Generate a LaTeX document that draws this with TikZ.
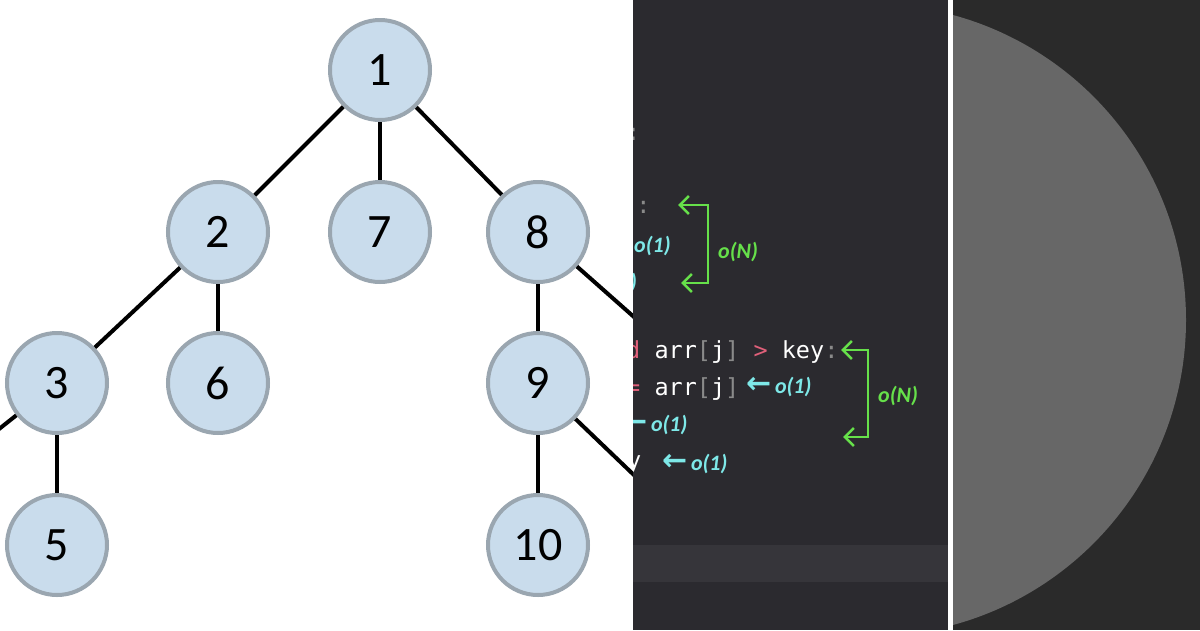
\documentclass[tikz,border=0pt]{standalone}
\usepackage{fontspec}
\setsansfont{Carlito}
\newfontfamily\codefont{DejaVu Sans Mono}
\newfontfamily\arrfont{DejaVu Sans}
\usetikzlibrary{arrows.meta}
\definecolor{nodefill}{HTML}{C9DCEC}
\definecolor{nodeedge}{HTML}{9AA6B0}
\definecolor{darkbg}{HTML}{2B2A2F}
\definecolor{rightbg}{HTML}{2A2A2A}
\definecolor{disc}{HTML}{676767}
\definecolor{band}{HTML}{36353A}
\definecolor{cgreen}{HTML}{66E04A}
\definecolor{ccyan}{HTML}{7EE8E8}
\definecolor{cpink}{HTML}{E0607A}
\definecolor{cgray}{HTML}{8A8A8A}
\newcommand{\larr}{{\arrfont\fontsize{30}{30}\selectfont ←}}
\tikzset{
  tnode/.style={circle,minimum size=100pt,inner sep=0pt,fill=nodefill,draw=nodeedge,line width=4pt,font=\sffamily\fontsize{48}{48}\selectfont},
  tedge/.style={line width=4pt,black},
  code/.style={anchor=base west,inner sep=0pt,font=\codefont\fontsize{23.5}{24}\selectfont,text=white},
  note/.style={anchor=base west,inner sep=0pt,font=\sffamily\itshape\bfseries\fontsize{22}{22}\selectfont},
  brk/.style={cgreen,line width=2.5pt,-{Straight Barb[length=9pt,width=18pt]}},
}
\begin{document}
\begin{tikzpicture}[x=1pt,y=-1pt]
\useasboundingbox (0,0) rectangle (1200,630);
\fill[white] (0,0) rectangle (633,630);
\begin{scope}
\clip (0,0) rectangle (633,630);
\node[tnode] (n1) at (380,70) {1};
\node[tnode] (n2) at (218,232) {2};
\node[tnode] (n7) at (380,232) {7};
\node[tnode] (n8) at (538,232) {8};
\node[tnode] (n3) at (57,383) {3};
\node[tnode] (n6) at (218,383) {6};
\node[tnode] (n9) at (538,383) {9};
\node[tnode] (n5) at (57,545) {5};
\node[tnode] (n10) at (538,545) {10};
\coordinate (o3) at (-40,460);
\coordinate (o8) at (660,340);
\coordinate (o9) at (660,500);
\foreach \a/\b in {n1/n2,n1/n7,n1/n8,n2/n3,n2/n6,n8/n9,n3/n5,n9/n10,n3/o3,n8/o8,n9/o9}
  \draw[tedge] (\a) -- (\b);
\end{scope}
% middle panel
\fill[darkbg] (633,0) rectangle (948,630);
\fill[band] (633,545) rectangle (948,582);
\fill[white] (948,0) rectangle (953,630);
\begin{scope}
\clip (633,0) rectangle (948,630);
\node[code,text=cgray] (c1) at (626,140) {:};
\node[code,text=cgray] (c2) at (622,213) {):};
\node[note,text=ccyan] (c3) at (634,252) {o(1)};
\node[note,text=ccyan] (c4) at (630,289) {)};
\node[code] (c5) at (626,358) {\textcolor{cpink}{d} arr\textcolor{cgray}{[}j\textcolor{cgray}{]} \textcolor{cpink}{>} key\textcolor{cgray}{:}};
\node[code] (c6) at (626,395) {\textcolor{cpink}{=} arr\textcolor{cgray}{[}j\textcolor{cgray}{]}};
\node[note,text=ccyan] (c6n) at (746,393) {\larr\,o(1)};
\node[note,text=ccyan] (c7) at (622,431) {\larr\,o(1)};
\node[code] (c8) at (627,468) {y};
\node[note,text=ccyan] (c8n) at (662,470) {\larr\,o(1)};
\coordinate (b1t) at (708,205);
\coordinate (b1b) at (708,283);
\coordinate (b1a) at (678,205);
\coordinate (b1c) at (681,283);
\draw[brk] (b1b) -- (b1t) -- (b1a);
\draw[brk] (b1t) |- (b1c);
\node[note,text=cgreen] (l1) at (718,258) {o(N)};
\coordinate (b2t) at (868,350);
\coordinate (b2b) at (868,437);
\draw[brk] (b2b) -- (b2t) -- (841,350);
\draw[brk] (b2t) |- (843,437);
\node[note,text=cgreen] (l2) at (878,402) {o(N)};
\end{scope}
% right panel
\fill[rightbg] (953,0) rectangle (1200,630);
\begin{scope}
\clip (953,0) rectangle (1200,630);
\fill[disc] (870,320) circle (316);
\end{scope}
\end{tikzpicture}
\end{document}
